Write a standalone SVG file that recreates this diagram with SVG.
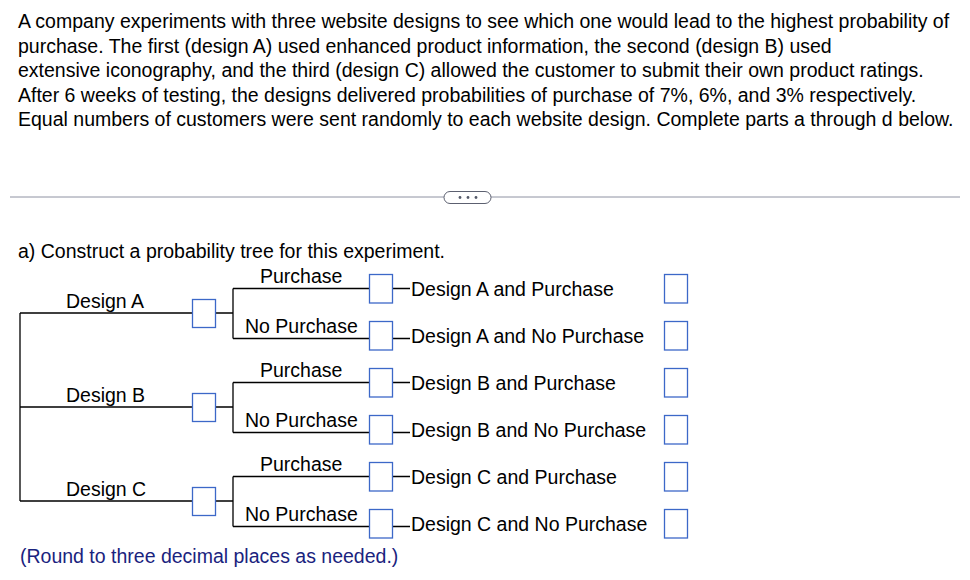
<svg xmlns="http://www.w3.org/2000/svg" width="970" height="580" viewBox="0 0 970 580">
<style>
text{font-family:"Liberation Sans",Arial,sans-serif;font-size:19.5px;fill:#000}
.ln{stroke:#000;stroke-width:1.3;fill:none}
.bx{fill:#fff;stroke:#3c68c8;stroke-width:1.3}
.note{fill:#1a237e}
</style>
<rect width="970" height="580" fill="#fff"/>
<g id="problem">
<text x="18" y="28">A company experiments with three website designs to see which one would lead to the highest probability of</text>
<text x="18" y="52.5">purchase. The first (design A) used enhanced product information, the second (design B) used</text>
<text x="18" y="77">extensive iconography, and the third (design C) allowed the customer to submit their own product ratings.</text>
<text x="18" y="101.5">After 6 weeks of testing, the designs delivered probabilities of purchase of 7%, 6%, and 3% respectively.</text>
<text x="18" y="126">Equal numbers of customers were sent randomly to each website design. Complete parts a through d below.</text>
</g>
<g id="separator">
<line x1="10" y1="197" x2="444" y2="197" stroke="#8e92a2" stroke-width="1"/>
<line x1="491" y1="197" x2="960" y2="197" stroke="#8e92a2" stroke-width="1"/>
<rect x="444" y="191.5" width="47" height="12" rx="6" fill="#fff" stroke="#5c6070" stroke-width="1"/>
<circle cx="460" cy="197.5" r="1.4" fill="#555a6a"/>
<circle cx="468" cy="197.5" r="1.4" fill="#555a6a"/>
<circle cx="476" cy="197.5" r="1.4" fill="#555a6a"/>
</g>
<text x="18" y="258">a) Construct a probability tree for this experiment.</text>
<g id="connectors">
<path class="ln" d="M20 313V501M20 313H192M20 407H192M20 501H192"/>
<path class="ln" d="M216 313H233M233 288.5V338.5M233 288.5H369M233 338.5H369"/>
<path class="ln" d="M216 407H233M233 382.5V432.5M233 382.5H369M233 432.5H369"/>
<path class="ln" d="M216 501H233M233 476.5V526.5M233 476.5H369M233 526.5H369"/>
<path class="ln" d="M393 288.5H410M393 338.5H410M393 382.5H410M393 432.5H410M393 476.5H410M393 526.5H410"/>
</g>
<g id="designA">
<text x="66" y="308">Design A</text>
<rect class="bx" x="192.5" y="299.5" width="23" height="28"/>
</g>
<g id="designB">
<text x="66" y="402">Design B</text>
<rect class="bx" x="192.5" y="393.5" width="23" height="28"/>
</g>
<g id="designC">
<text x="66" y="496">Design C</text>
<rect class="bx" x="192.5" y="487.5" width="23" height="28"/>
</g>
<g id="A-purchase">
<text x="260" y="282.5">Purchase</text>
<rect class="bx" x="369.5" y="274.5" width="23" height="28.5"/>
<text x="411" y="296">Design A and Purchase</text>
<rect class="bx" x="664.5" y="274.5" width="23" height="28.5"/>
</g>
<g id="A-nopurchase">
<text x="245" y="332.5">No Purchase</text>
<rect class="bx" x="369.5" y="321.5" width="23" height="28.5"/>
<text x="411" y="343">Design A and No Purchase</text>
<rect class="bx" x="664.5" y="321.5" width="23" height="28.5"/>
</g>
<g id="B-purchase">
<text x="260" y="376.5">Purchase</text>
<rect class="bx" x="369.5" y="368.5" width="23" height="28.5"/>
<text x="411" y="390">Design B and Purchase</text>
<rect class="bx" x="664.5" y="368.5" width="23" height="28.5"/>
</g>
<g id="B-nopurchase">
<text x="245" y="426.5">No Purchase</text>
<rect class="bx" x="369.5" y="415.5" width="23" height="28.5"/>
<text x="411" y="437">Design B and No Purchase</text>
<rect class="bx" x="664.5" y="415.5" width="23" height="28.5"/>
</g>
<g id="C-purchase">
<text x="260" y="470.5">Purchase</text>
<rect class="bx" x="369.5" y="462.5" width="23" height="28.5"/>
<text x="411" y="484">Design C and Purchase</text>
<rect class="bx" x="664.5" y="462.5" width="23" height="28.5"/>
</g>
<g id="C-nopurchase">
<text x="245" y="520.5">No Purchase</text>
<rect class="bx" x="369.5" y="509.5" width="23" height="28.5"/>
<text x="411" y="531">Design C and No Purchase</text>
<rect class="bx" x="664.5" y="509.5" width="23" height="28.5"/>
</g>
<text class="note" x="20" y="563">(Round to three decimal places as needed.)</text>
</svg>
